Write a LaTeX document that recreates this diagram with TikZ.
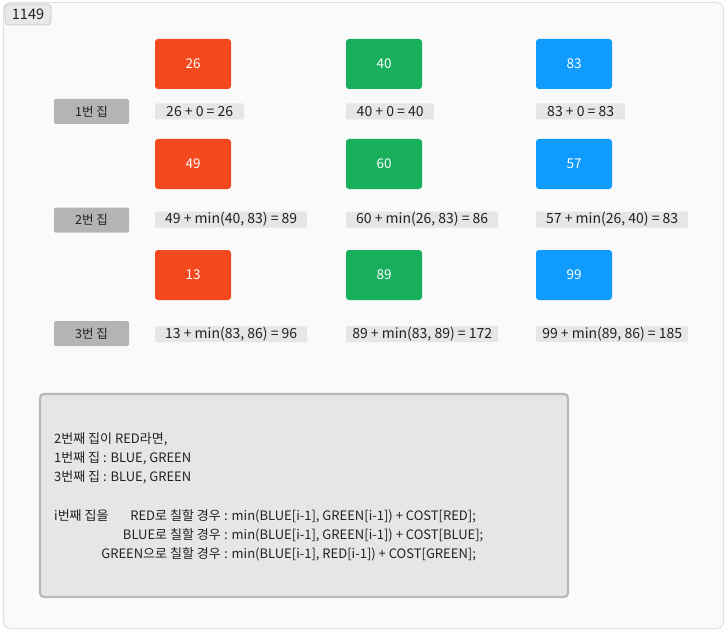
\documentclass[tikz,border=0pt]{standalone}
\usepackage{fontspec}
\setmainfont{Noto Sans CJK KR}
\definecolor{framec}{HTML}{E0E0E0}
\definecolor{bgc}{HTML}{FAFAFA}
\definecolor{tabfill}{HTML}{E8E8E8}
\definecolor{tabline}{HTML}{C8C8C8}
\definecolor{redc}{HTML}{F4491F}
\definecolor{greenc}{HTML}{17AF5B}
\definecolor{bluec}{HTML}{0F9BFF}
\definecolor{housec}{HTML}{B4B4B4}
\definecolor{formc}{HTML}{E6E6E6}
\definecolor{notefill}{HTML}{E6E6E6}
\definecolor{noteline}{HTML}{B8B8B8}
\definecolor{txt}{HTML}{222222}
\begin{document}
\begin{tikzpicture}[x=1pt,y=-1pt,
  tab/.style={draw=tabline, fill=tabfill, rounded corners=4pt, line width=0.8pt,
    minimum width=46pt, minimum height=21pt, inner sep=0pt, text=txt,
    font=\fontsize{14.5}{16}\selectfont},
  colbox/.style={rounded corners=3pt, minimum width=76pt, minimum height=50pt,
    inner sep=0pt, text=white, font=\fontsize{13.5}{15}\selectfont},
  redbox/.style={colbox, fill=redc},
  greenbox/.style={colbox, fill=greenc},
  bluebox/.style={colbox, fill=bluec},
  housebox/.style={fill=housec, rounded corners=1.5pt, minimum width=75pt,
    minimum height=25pt, inner sep=0pt, text=txt, font=\fontsize{12.5}{14}\selectfont},
  formula/.style={fill=formc, rounded corners=1pt, minimum height=16pt,
    inner sep=0pt, anchor=west, text=txt, font=\fontsize{14}{15}\selectfont},
  notebox/.style={draw=noteline, fill=notefill, line width=2.2pt, rounded corners=4pt,
    minimum width=528pt, minimum height=203pt, inner sep=0pt},
  notetext/.style={inner sep=0pt, text=txt, font=\fontsize{13}{15}\selectfont}
]
\useasboundingbox (0,0) rectangle (727,631);
\draw[framec, fill=bgc, rounded corners=7pt, line width=1pt] (3.5,2.5) rectangle (723.5,628.5);
\node[tab] (title) at (28,14.5) {1149};

% row 1
\node[redbox]   (r1) at (193,64) {26};
\node[greenbox] (g1) at (384,64) {40};
\node[bluebox]  (b1) at (574,64) {83};
\node[housebox] (h1) at (91.5,111.5) {1번 집};
\node[formula, minimum width=89pt] (fr1) at (155,111.5) {26 + 0 = 26};
\node[formula, minimum width=88pt] (fg1) at (346,111.5) {40 + 0 = 40};
\node[formula, minimum width=89pt] (fb1) at (536,111.5) {83 + 0 = 83};

% row 2
\node[redbox]   (r2) at (193,164) {49};
\node[greenbox] (g2) at (384,164) {60};
\node[bluebox]  (b2) at (574,164) {57};
\node[housebox] (h2) at (91.5,220) {2번 집};
\node[formula, minimum width=152pt] (fr2) at (155,219.5) {49 + min(40, 83) = 89};
\node[formula, minimum width=152pt] (fg2) at (346,219.5) {60 + min(26, 83) = 86};
\node[formula, minimum width=152pt] (fb2) at (536,219.5) {57 + min(26, 40) = 83};

% row 3
\node[redbox]   (r3) at (193,275) {13};
\node[greenbox] (g3) at (384,275) {89};
\node[bluebox]  (b3) at (574,275) {99};
\node[housebox] (h3) at (91.5,333.5) {3번 집};
\node[formula, minimum width=152pt] (fr3) at (155,334) {13 + min(83, 86) = 96};
\node[formula, minimum width=152pt] (fg3) at (346,334) {89 + min(83, 89) = 172};
\node[formula, minimum width=152pt] (fb3) at (536,334) {99 + min(89, 86) = 185};

% note
\node[notebox] (note) at (304,495.5) {};
\node[notetext, anchor=base west] (n1) at (54,443.5) {2번째 집이 RED라면,};
\node[notetext, anchor=base west] (n2) at (54,462.5) {1번째 집 : BLUE, GREEN};
\node[notetext, anchor=base west] (n3) at (54,481.5) {3번째 집 : BLUE, GREEN};
\node[notetext, anchor=base west] (n4) at (54,520.5) {i번째 집을};
\node[notetext, anchor=base east] (p1) at (221,520.5) {RED로 칠할 경우};
\node[notetext, anchor=base west] (q1) at (224,520.5) {: min(BLUE[i-1], GREEN[i-1]) + COST[RED];};
\node[notetext, anchor=base east] (p2) at (221,539.5) {BLUE로 칠할 경우};
\node[notetext, anchor=base west] (q2) at (224,539.5) {: min(BLUE[i-1], GREEN[i-1]) + COST[BLUE];};
\node[notetext, anchor=base east] (p3) at (221,558.5) {GREEN으로 칠할 경우};
\node[notetext, anchor=base west] (q3) at (224,558.5) {: min(BLUE[i-1], RED[i-1]) + COST[GREEN];};
\end{tikzpicture}
\end{document}
